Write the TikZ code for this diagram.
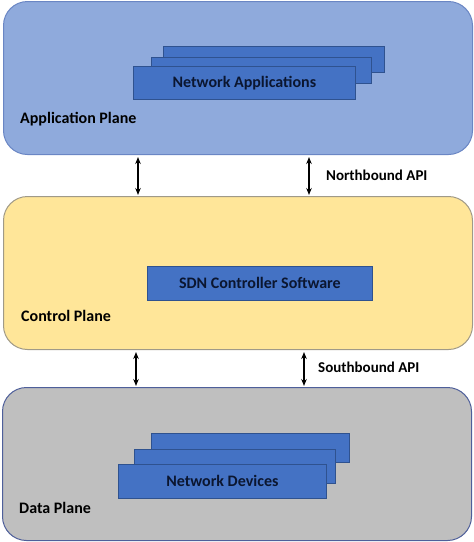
\documentclass[tikz,border=0pt]{standalone}
\usepackage{fontspec}
\setmainfont{Carlito}
\usetikzlibrary{arrows.meta}
\definecolor{appfill}{HTML}{8FAADC}
\definecolor{appdraw}{HTML}{6A86C4}
\definecolor{ctrlfill}{HTML}{FFE699}
\definecolor{ctrldraw}{HTML}{A09A88}
\definecolor{datafill}{HTML}{BFBFBF}
\definecolor{datadraw}{HTML}{4E5F9A}
\definecolor{boxfill}{HTML}{4472C4}
\definecolor{boxdraw}{HTML}{2F528F}
\definecolor{boxtext}{HTML}{0B1630}
\tikzset{
  plane/.style={draw=#1, line width=1pt, rounded corners=24pt, anchor=north west, inner sep=0pt},
  blk/.style={draw=boxdraw, fill=boxfill, line width=0.8pt, anchor=north west, inner sep=0pt},
  blktext/.style={font=\fontsize{16}{18}\selectfont\bfseries, text=boxtext},
  lbl/.style={font=\fontsize{16}{18}\selectfont\bfseries, text=black, anchor=west, inner sep=0pt},
  apilbl/.style={font=\fontsize{15}{17}\selectfont\bfseries, text=black, anchor=west, inner sep=0pt},
  api/.style={<->, >={Stealth[length=7pt,width=5.5pt]}, line width=1.2pt, shorten <=2pt, shorten >=1pt},
}
\begin{document}
\begin{tikzpicture}[x=1pt,y=-1pt]
\useasboundingbox (0,0) rectangle (474,542);
% planes
\node[plane=appdraw, fill=appfill, minimum width=469pt, minimum height=153pt] (app) at (3,1) {};
\node[plane=ctrldraw, fill=ctrlfill, minimum width=469pt, minimum height=153pt] (ctrl) at (3,196) {};
\node[plane=datadraw, fill=datafill, minimum width=469pt, minimum height=153pt] (data) at (2,387) {};
% network applications stack
\node[blk, minimum width=221pt, minimum height=26pt] (na3) at (163,46) {};
\node[blk, minimum width=220pt, minimum height=26pt] (na2) at (151,57) {};
\node[blk, minimum width=222pt, minimum height=33pt] (na1) at (133,66) {};
\node[blktext] (natext) at (na1.center) {Network Applications};
% controller
\node[blk, minimum width=225pt, minimum height=34pt] (sdn) at (147,266) {};
\node[blktext] (sdntext) at (sdn.center) {SDN Controller Software};
% network devices stack
\node[blk, minimum width=198pt, minimum height=29pt] (nd3) at (151,433) {};
\node[blk, minimum width=201pt, minimum height=34pt] (nd2) at (134,449) {};
\node[blk, minimum width=208pt, minimum height=34pt] (nd1) at (118,464) {};
\node[blktext] (ndtext) at (nd1.center) {Network Devices};
% plane labels
\node[lbl] (applbl) at (20,119) {Application Plane};
\node[lbl] (ctrllbl) at (21,316) {Control Plane};
\node[lbl] (datalbl) at (19,508) {Data Plane};
% APIs
\draw[api] (app.south -| 138,0) -- (ctrl.north -| 138,0);
\draw[api] (app.south -| 309,0) -- (ctrl.north -| 309,0);
\node[apilbl] (nb) at (326,175) {Northbound API};
\draw[api] (ctrl.south -| 136,0) -- (data.north -| 136,0);
\draw[api] (ctrl.south -| 304,0) -- (data.north -| 304,0);
\node[apilbl] (sb) at (318,367) {Southbound API};
\end{tikzpicture}
\end{document}
